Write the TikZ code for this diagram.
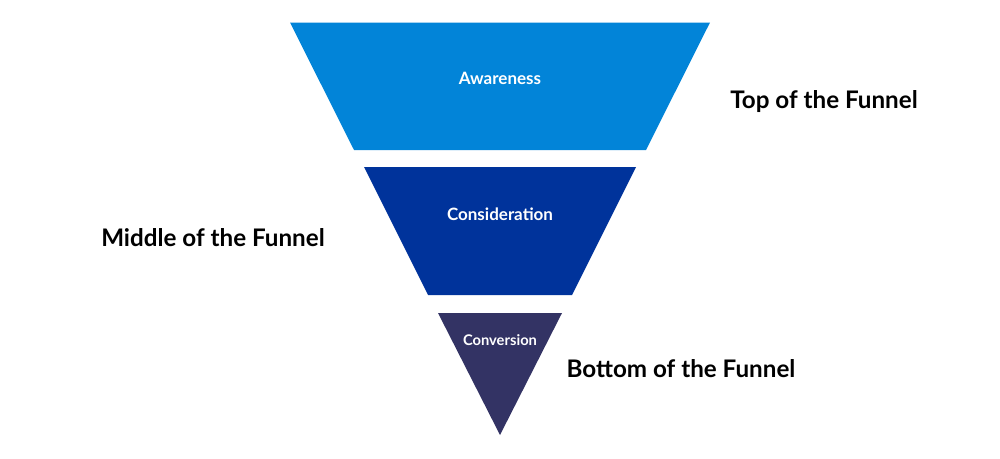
\documentclass[tikz,border=0pt]{standalone}
\usepackage{fontspec}
\setmainfont{Lato}
\definecolor{cTop}{HTML}{0284D8}
\definecolor{cMid}{HTML}{00339B}
\definecolor{cBot}{HTML}{333364}
\begin{document}
\begin{tikzpicture}[x=1pt,y=-1pt,
  inner/.style={text=white,font=\bfseries\fontsize{17}{20}\selectfont,anchor=base,inner sep=0pt},
  outer/.style={text=black,font=\bfseries\fontsize{24.2}{29}\selectfont,anchor=base,inner sep=0pt}]
\useasboundingbox (0,0) rectangle (1000,458);
\fill[white] (0,0) rectangle (1000,458);
\fill[cTop] (290,22.5) -- (710,22.5) -- (646,150) -- (354,150) -- cycle;
\fill[cMid] (364,167) -- (636,167) -- (572,295) -- (428,295) -- cycle;
\fill[cBot] (438,313) -- (562,313) -- (500,435) -- cycle;
\node[inner] (aw) at (500,84) {Awareness};
\node[inner] (co) at (500,220) {Consideration};
\node[inner,font=\bfseries\fontsize{14.7}{17}\selectfont] (cv) at (500,345.7) {Conversion};
\node[outer] (tof) at (824,108.3) {Top of the Funnel};
\node[outer] (mof) at (213,246) {Middle of the Funnel};
\node[outer] (bof) at (681,377) {Bottom of the Funnel};
\end{tikzpicture}
\end{document}
